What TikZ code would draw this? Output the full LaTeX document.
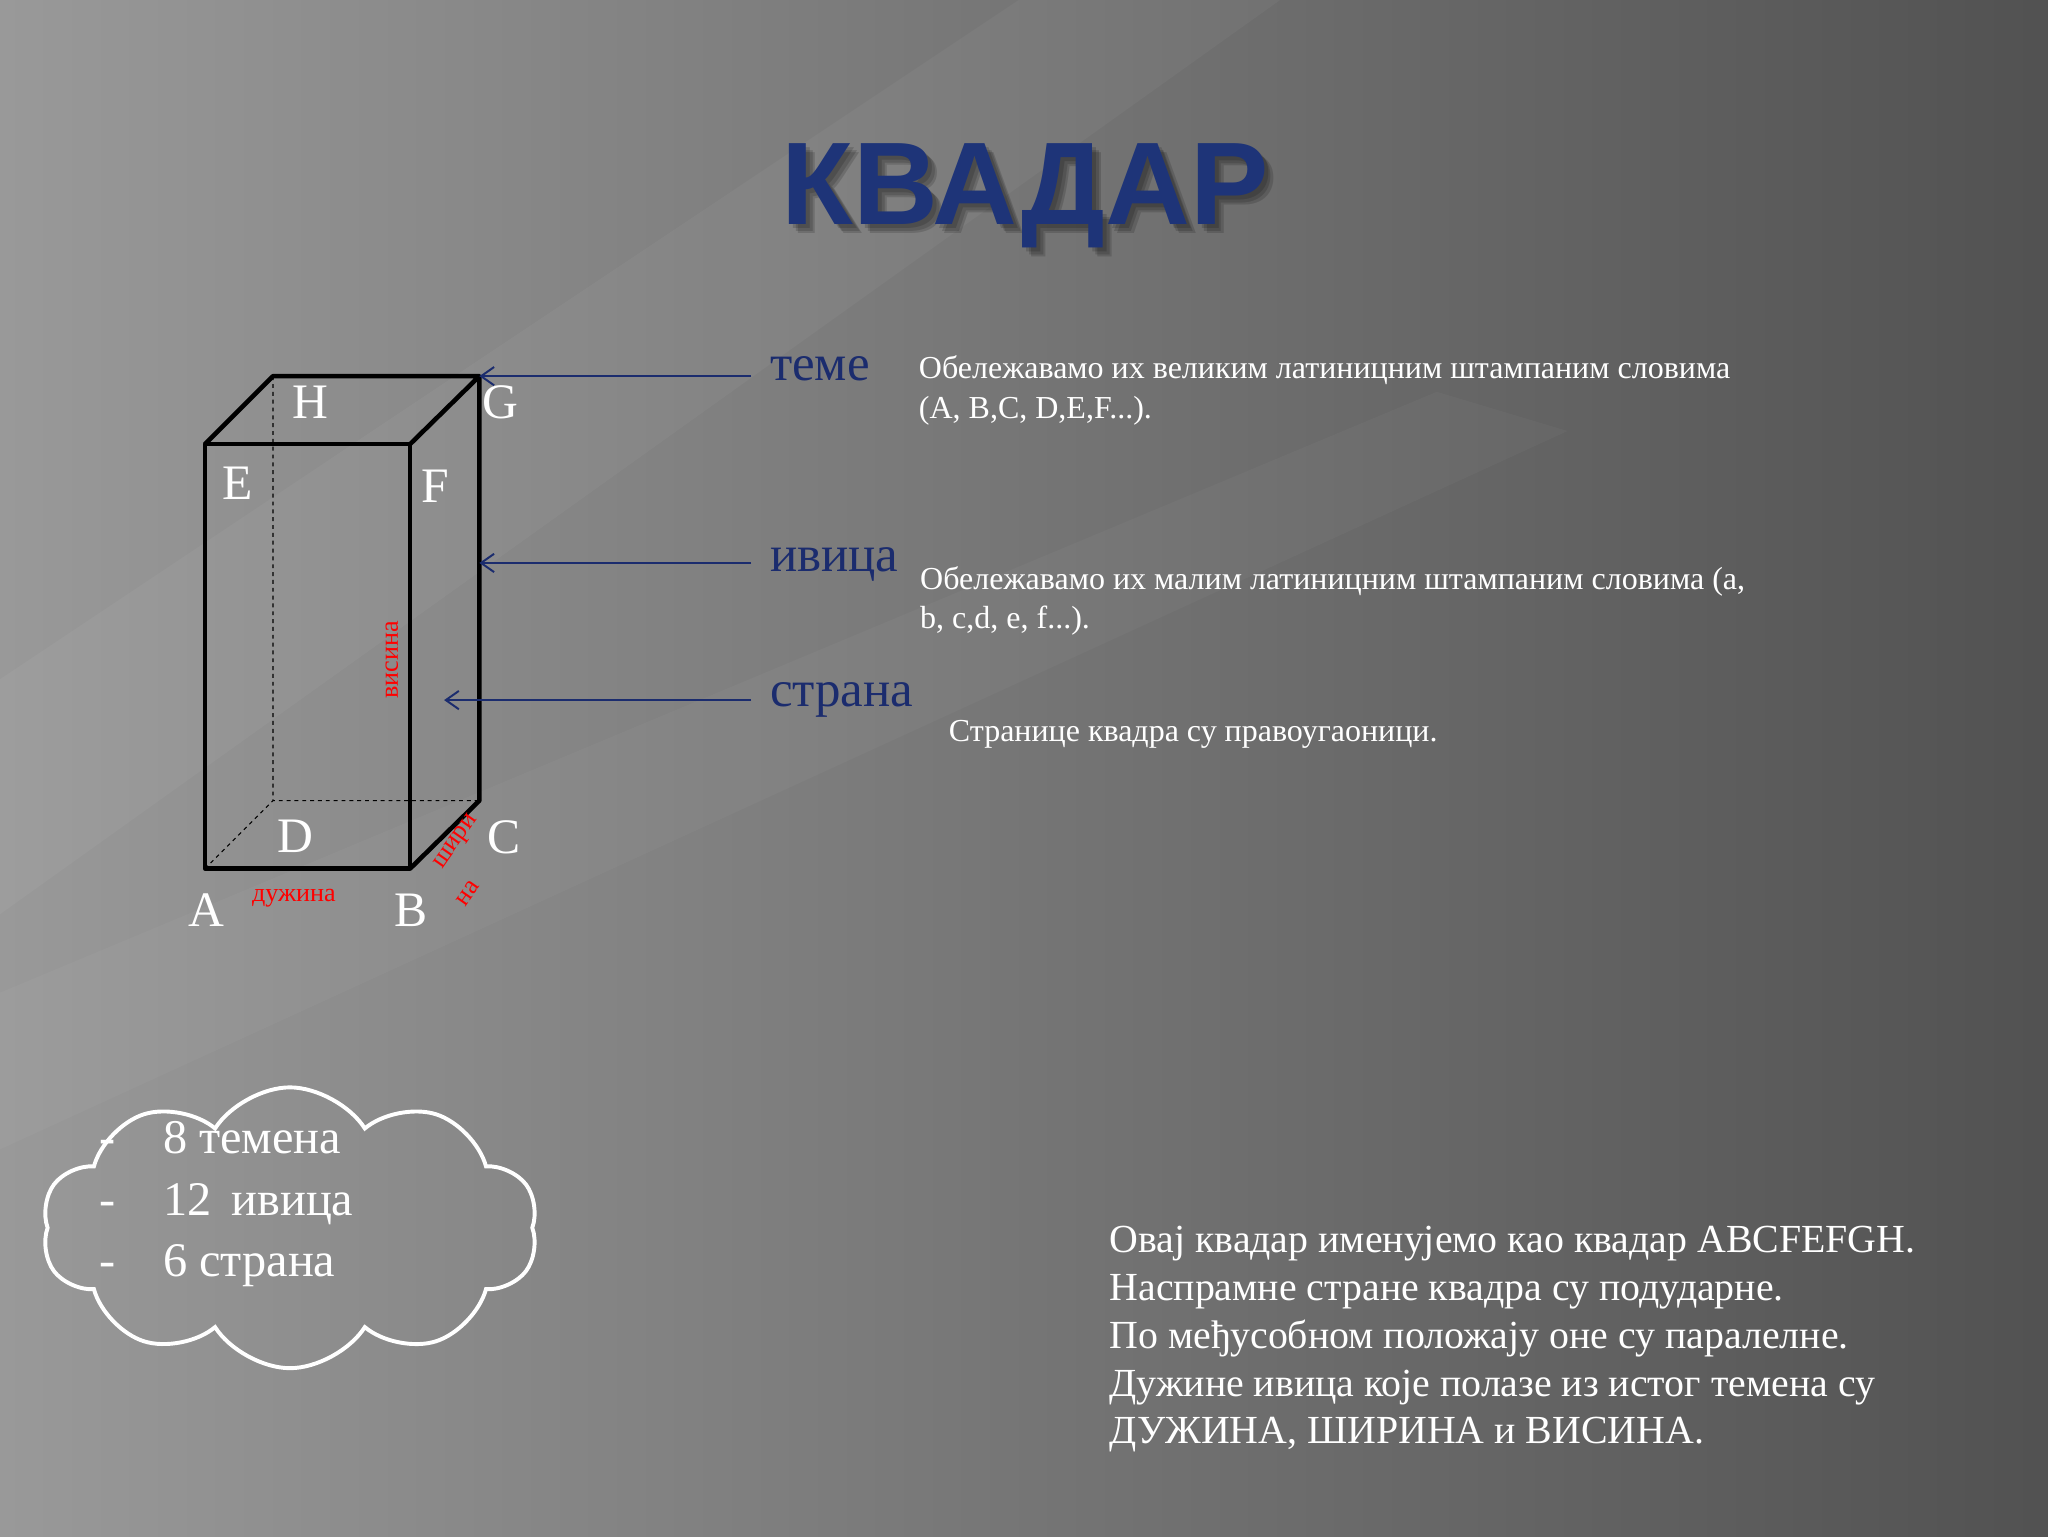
\documentclass[tikz,border=0pt]{standalone}
\usepackage{fontspec}
\setmainfont{Liberation Serif}
\newfontfamily\titlefont{Liberation Sans}
\usetikzlibrary{shapes.symbols,shadows,arrows.meta}
\definecolor{navy}{HTML}{1B2C6E}
\definecolor{tblue}{HTML}{1E3478}
\tikzset{
 edge/.style={line width=3.5pt,black,line join=round},
 hid/.style={black,dashed,line width=0.8pt},
 vlab/.style={white,font=\fontsize{38}{40}\selectfont},
 redlab/.style={text=red,font=\fontsize{20}{22}\selectfont},
 term/.style={navy,font=\fontsize{39}{40}\selectfont,anchor=west},
 desc/.style={white,font=\fontsize{24.5}{30}\selectfont,anchor=west,align=left},
 arr/.style={navy,line width=1.5pt,-{Straight Barb[length=10pt,width=14pt]}},
}
\begin{document}
\begin{tikzpicture}[x=1pt,y=-1pt]
\useasboundingbox (0,0) rectangle (1568,1176);
\shade[left color=black!40,right color=black!68] (0,0) rectangle (1568,1176);
\fill[white,opacity=0.04] (0,520) -- (780,0) -- (980,0) -- (0,700) -- cycle;
\fill[white,opacity=0.03] (0,760) -- (1100,300) -- (1200,330) -- (0,880) -- cycle;
% title
\foreach \d in {3,5,7}{\node[font=\titlefont\bfseries\fontsize{90}{96}\selectfont,text=black,opacity=0.15] at (785+\d,150+\d) {КВАДАР};}
\node[font=\titlefont\bfseries\fontsize{90}{96}\selectfont,text=tblue] (title) at (785,150) {КВАДАР};
% box
\coordinate (A) at (157,665); \coordinate (B) at (314,665);
\coordinate (C) at (367,613); \coordinate (D) at (209,613);
\coordinate (E) at (157,340); \coordinate (F) at (314,340);
\coordinate (G) at (367,288); \coordinate (H) at (209,288);
\draw[hid] (H) -- (D) (A) -- (D) -- (C);
\draw[edge] (A) -- (B) -- (F) -- (E) -- cycle;
\draw[edge] (E) -- (H) -- (G) -- (F);
\draw[edge] (B) -- (C) -- (G);
\node[vlab] (lH) at (238,308) {H};
\node[vlab] (lG) at (383,308) {G};
\node[vlab] (lE) at (182,370) {E};
\node[vlab] (lF) at (333,372) {F};
\node[vlab] (lD) at (226,640) {D};
\node[vlab] (lC) at (386,641) {C};
\node[vlab] (lA) at (158,697) {A};
\node[vlab] (lB) at (315,697) {B};
\node[redlab,rotate=90] (vis) at (300,505) {висина};
\node[redlab] (duz) at (225,688) {дужина};
\node[redlab,rotate=55] (sir1) at (350,645) {шири};
\node[redlab,rotate=55] (sir2) at (358,684) {на};
% arrows
\coordinate (a1) at (575,288); \coordinate (a2) at (575,431); \coordinate (a3) at (575,536);
\coordinate (t1) at (367,288); \coordinate (t2) at (367,431); \coordinate (t3) at (340,536);
\draw[arr] (a1) -- (t1);
\draw[arr] (a2) -- (t2);
\draw[arr] (a3) -- (t3);
\node[term] (teme) at (586,282) {теме};
\node[term] (ivica) at (586,432) {ивица};
\node[term] (strana) at (586,536) {страна};
\node[desc] (d1) at (700,299) {Обележавамо их великим латиницним штампаним словима\\(A, B,C, D,E,F...).};
\node[desc] (d2) at (701,460) {Обележавамо их малим латиницним штампаним словима (a,\\b, c,d, e, f...).};
\node[desc] (d3) at (723,562) {Странице квадра су правоугаоници.};
% cloud
\node[cloud,cloud puffs=10,cloud puff arc=115,aspect=1.8,draw=white,line width=3pt,minimum width=380pt,minimum height=215pt] (cl) at (222,940) {};
\node[white,font=\fontsize{37}{47}\selectfont,align=left,anchor=west] (cltext) at (73,922) {-\hspace{36pt}8 темена\\-\hspace{36pt}12\, ивица\\-\hspace{36pt}6 страна};
% bottom text
\node[white,font=\fontsize{30.5}{36.7}\selectfont,align=left,anchor=north west] (bt) at (846,935) {Овај квадар именујемо као квадар ABCFEFGH.\\Наспрамне стране квадра су подударне.\\По међусобном положају оне су паралелне.\\Дужине ивица које полазе из истог темена су\\ДУЖИНА, ШИРИНА и ВИСИНА.};
\end{tikzpicture}
\end{document}
